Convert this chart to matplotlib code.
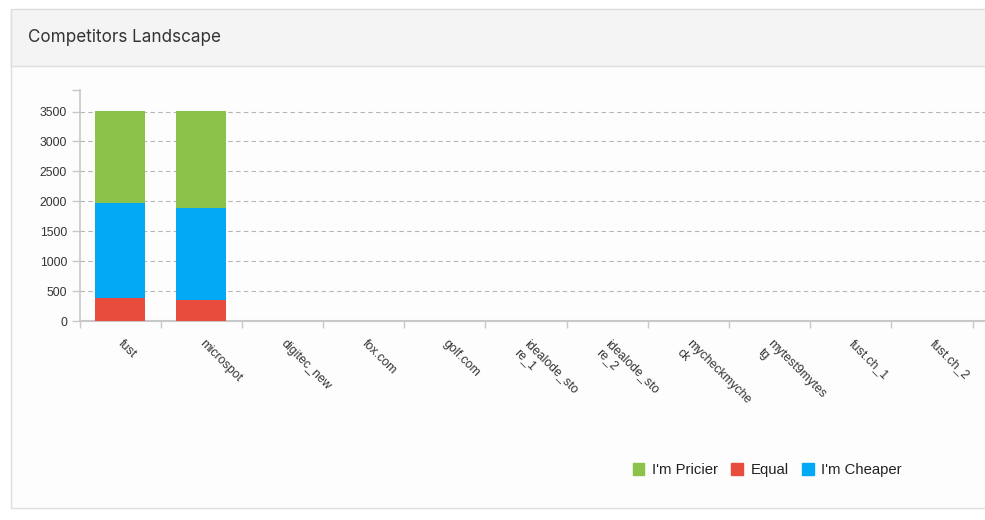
import textwrap
import numpy as np
import matplotlib
matplotlib.use("Agg")
import matplotlib.pyplot as plt
from matplotlib.patches import Rectangle

# chart data
competitors = ["fust", "microspot", "digitec_new", "fox.com", "golf.com",
               "idealode_store_1", "idealode_store_2", "mycheckmycheck",
               "mytest9mytestg", "fust.ch_1", "fust.ch_2"]
equal = [390, 356, 0, 0, 0, 0, 0, 0, 0, 0, 0]
cheaper = [1583, 1538, 0, 0, 0, 0, 0, 0, 0, 0, 0]
pricier = [1537, 1616, 0, 0, 0, 0, 0, 0, 0, 0, 0]
yticks = [0, 500, 1000, 1500, 2000, 2500, 3000, 3500]

GREEN = "#8BC34A"
RED = "#E74C3C"
BLUE = "#03A9F4"

W, H = 985, 520
fig = plt.figure(figsize=(W / 100, H / 100), dpi=100)
fig.patch.set_facecolor("white")

def fx(px):
	return px / W

def fy(py):
	return 1 - py / H

# panel + header
fig.patches.append(Rectangle((fx(10.5), fy(507.5)), fx(990 - 10.5), (497 / H),
	transform=fig.transFigure, facecolor="#FDFDFD", edgecolor="#DDDDDD", lw=1, zorder=-2))
fig.patches.append(Rectangle((fx(10.5), fy(65.5)), fx(990 - 10.5), (56 / H),
	transform=fig.transFigure, facecolor="#F4F4F4", edgecolor="#DDDDDD", lw=1, zorder=-1))
fig.text(fx(28), fy(37.5), "Competitors Landscape", fontsize=12.3, family=["Inter", "DejaVu Sans"],
	color="#333333", va="center", ha="left")

left, right, top, bottom = 79.5, 985, 90, 321
ax = fig.add_axes([fx(left), fy(bottom), fx(right - left), (bottom - top) / H])
ax.set_facecolor("none")

n = len(competitors)
x = np.arange(n)
eq = np.array(equal)
ch = np.array(cheaper)
pr = np.array(pricier)
ax.bar(x, eq, width=0.62, color=RED, zorder=3)
ax.bar(x, ch, width=0.62, bottom=eq, color=BLUE, zorder=3)
ax.bar(x, pr, width=0.62, bottom=eq + ch, color=GREEN, zorder=3)

cat_px = (972.5 - left) / n
ax.set_xlim(-0.5, -0.5 + (right - left) / cat_px)
ymax = 3860
ax.set_ylim(0, ymax)

ax.set_yticks(yticks)
ax.set_yticklabels([str(v) for v in yticks], fontsize=8.7, family="Liberation Sans", color="#333333")
ax.set_yticks([ymax], minor=True)
ax.tick_params(axis="y", which="both", length=6, width=1, color="#C8C8C8", pad=3)
ax.grid(axis="y", which="major", color="#B5B5B5", linestyle=(0, (4, 3)), lw=0.8, zorder=1)

ax.set_xticks(np.arange(-0.5, n, 1.0))
ax.set_xticklabels([])
ax.tick_params(axis="x", which="major", length=5, width=1, color="#C8C8C8")
wrapped = ["\n".join(textwrap.wrap(c, 12)) for c in competitors]
ax.set_xticks(x + 0.05, minor=True)
ax.set_xticklabels(wrapped, minor=True, fontsize=8.9, family="Liberation Sans", color="#333333")
ax.tick_params(axis="x", which="minor", length=0, pad=12)
for lab in ax.get_xticklabels(minor=True):
	lab.set_rotation(-45)
	lab.set_rotation_mode("anchor")
	lab.set_ha("left")
	lab.set_va("top")
	lab.set_linespacing(1.1)

for s in ["top", "right"]:
	ax.spines[s].set_visible(False)
ax.spines["left"].set_color("#C8C8C8")
ax.spines["bottom"].set_color("#C8C8C8")
ax.spines["left"].set_linewidth(1.2)
ax.spines["bottom"].set_linewidth(1.5)

handles = [Rectangle((0, 0), 1, 1, color=GREEN), Rectangle((0, 0), 1, 1, color=RED),
	Rectangle((0, 0), 1, 1, color=BLUE)]
leg = fig.legend(handles, ["I'm Pricier", "Equal", "I'm Cheaper"], ncol=3, frameon=False,
	loc="center right", bbox_to_anchor=(fx(902), fy(470)), borderaxespad=0, borderpad=0,
	handlelength=0.8, handleheight=0.8, handletextpad=0.5, columnspacing=0.9,
	prop={"family": "Liberation Sans", "size": 10.7})
for t in leg.get_texts():
	t.set_color("#222222")

fig.savefig("out.png", dpi=100)
